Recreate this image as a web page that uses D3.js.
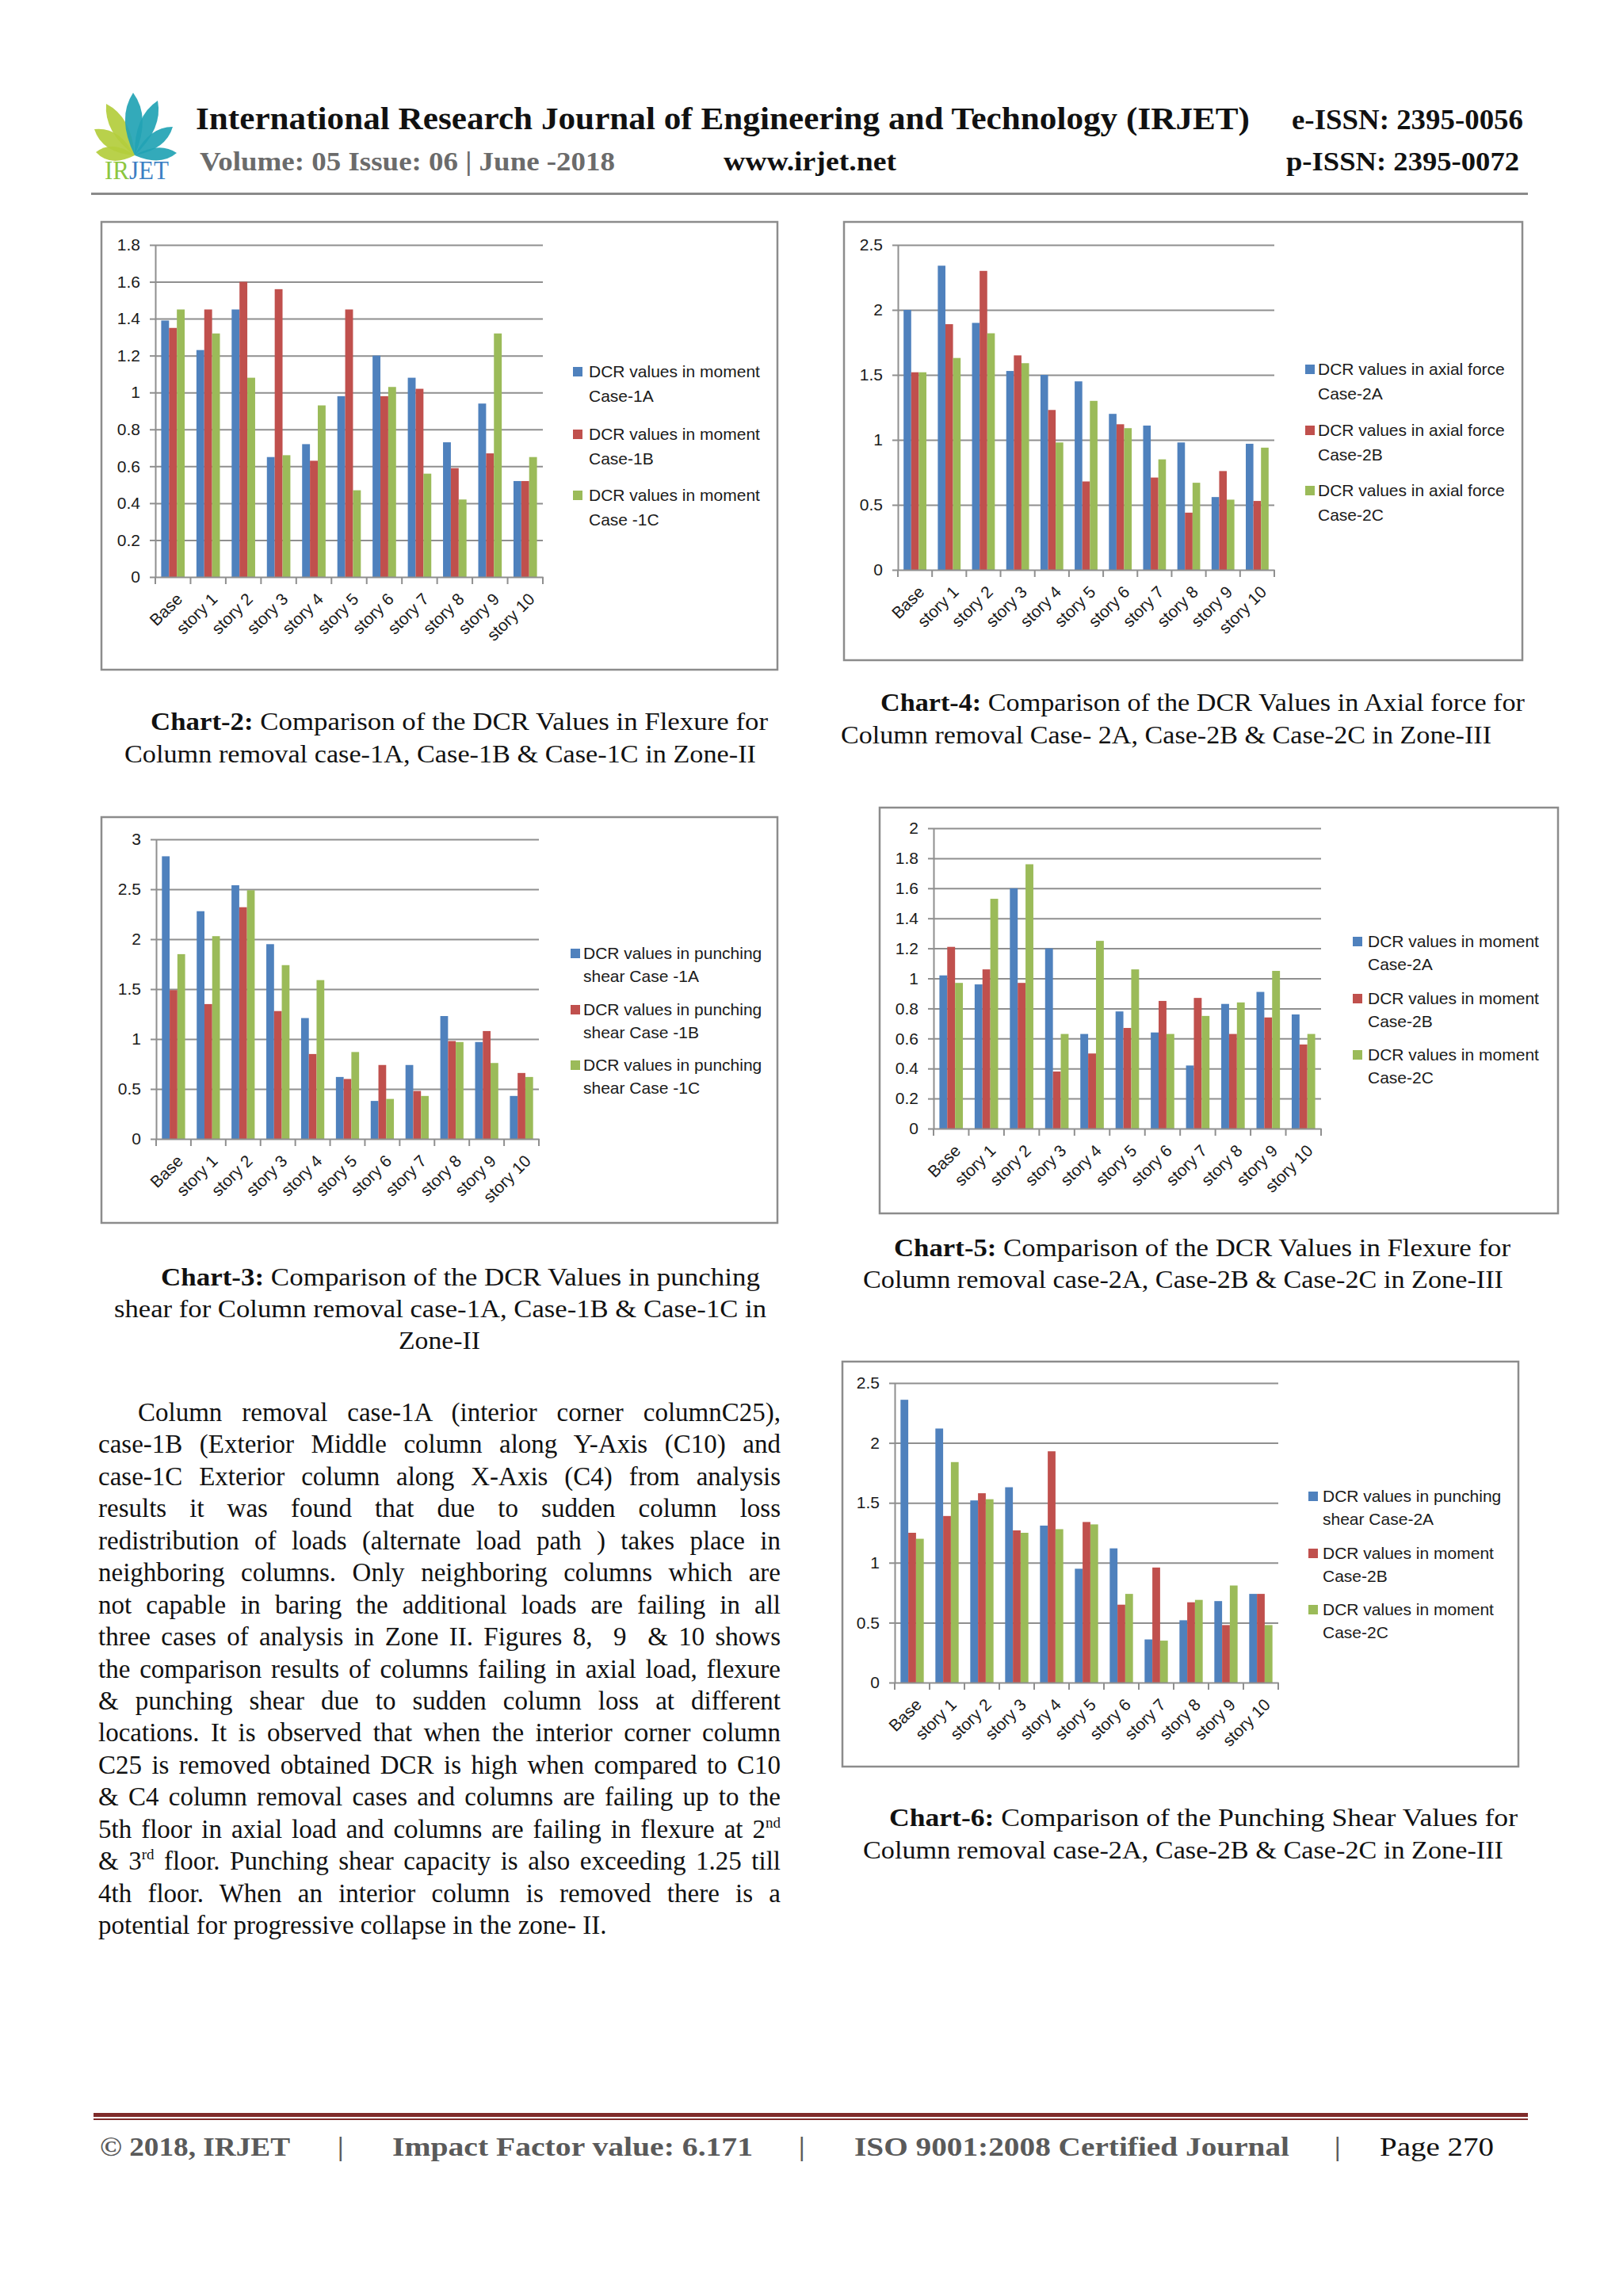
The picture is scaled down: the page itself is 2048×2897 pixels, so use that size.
<!DOCTYPE html>
<html>
<head>
<meta charset="utf-8">
<script src="https://cdn.jsdelivr.net/npm/d3@7"></script>
<style>
  html, body { margin: 0; padding: 0; background: #fff; }
  #page { position: relative; width: 2048px; height: 2897px; overflow: hidden; background: #fff; }
  svg { position: absolute; left: 0; top: 0; }
  .para { position: absolute; font-family: "Liberation Serif", "Times New Roman", serif; font-size: 33px;
          line-height: 40px; height: 40px; color: #111; white-space: nowrap;
          text-align: justify; text-align-last: justify; }
  .para.last { text-align-last: left; }
  .para sup { font-size: 19px; line-height: 0; vertical-align: 13px; }
</style>
</head>
<body>
<div id="page"></div>
<script>
// ---------------- DATA ----------------
const categories = ["Base", "story 1", "story 2", "story 3", "story 4", "story 5", "story 6", "story 7", "story 8", "story 9", "story 10"];

// Chart-2: DCR in flexure (moment), Zone-II
const chart2Case1A = [1.39, 1.23, 1.45, 0.65, 0.72, 0.98, 1.20, 1.08, 0.73, 0.94, 0.52];
const chart2Case1B = [1.35, 1.45, 1.60, 1.56, 0.63, 1.45, 0.98, 1.02, 0.59, 0.67, 0.52];
const chart2Case1C = [1.45, 1.32, 1.08, 0.66, 0.93, 0.47, 1.03, 0.56, 0.42, 1.32, 0.65];
const chart2Ticks = [0, 0.2, 0.4, 0.6, 0.8, 1, 1.2, 1.4, 1.6, 1.8];
const chart2Legend = [["DCR values in moment", "Case-1A"], ["DCR values in moment", "Case-1B"], ["DCR values in moment", "Case -1C"]];

// Chart-4: DCR in axial force, Zone-III
const chart4Case2A = [2.00, 2.34, 1.90, 1.53, 1.50, 1.45, 1.20, 1.11, 0.98, 0.56, 0.97];
const chart4Case2B = [1.52, 1.89, 2.30, 1.65, 1.23, 0.68, 1.12, 0.71, 0.44, 0.76, 0.53];
const chart4Case2C = [1.52, 1.63, 1.82, 1.59, 0.98, 1.30, 1.09, 0.85, 0.67, 0.54, 0.94];
const chart4Ticks = [0, 0.5, 1, 1.5, 2, 2.5];
const chart4Legend = [["DCR values in axial force", "Case-2A"], ["DCR values in axial force", "Case-2B"], ["DCR values in axial force", "Case-2C"]];

// Chart-3: DCR in punching shear, Zone-II
const chart3Case1A = [2.83, 2.28, 2.54, 1.95, 1.21, 0.62, 0.38, 0.74, 1.23, 0.97, 0.43];
const chart3Case1B = [1.49, 1.35, 2.32, 1.28, 0.85, 0.60, 0.74, 0.48, 0.98, 1.08, 0.66];
const chart3Case1C = [1.85, 2.03, 2.49, 1.74, 1.59, 0.87, 0.40, 0.43, 0.97, 0.76, 0.62];
const chart3Ticks = [0, 0.5, 1, 1.5, 2, 2.5, 3];
const chart3Legend = [["DCR values in punching", "shear Case -1A"], ["DCR values in punching", "shear Case -1B"], ["DCR values in punching", "shear Case -1C"]];

// Chart-5: DCR in flexure (moment), Zone-III
const chart5Case2A = [1.02, 0.96, 1.60, 1.20, 0.63, 0.78, 0.64, 0.42, 0.83, 0.91, 0.76];
const chart5Case2B = [1.21, 1.06, 0.97, 0.38, 0.50, 0.67, 0.85, 0.87, 0.63, 0.74, 0.56];
const chart5Case2C = [0.97, 1.53, 1.76, 0.63, 1.25, 1.06, 0.63, 0.75, 0.84, 1.05, 0.63];
const chart5Ticks = [0, 0.2, 0.4, 0.6, 0.8, 1, 1.2, 1.4, 1.6, 1.8, 2];
const chart5Legend = [["DCR values in moment", "Case-2A"], ["DCR values in moment", "Case-2B"], ["DCR values in moment", "Case-2C"]];

// Chart-6: Punching shear, Zone-III
const chart6Case2A = [2.36, 2.12, 1.52, 1.63, 1.31, 0.95, 1.12, 0.36, 0.52, 0.68, 0.74];
const chart6Case2B = [1.25, 1.39, 1.58, 1.27, 1.93, 1.34, 0.65, 0.96, 0.67, 0.48, 0.74];
const chart6Case2C = [1.20, 1.84, 1.53, 1.25, 1.28, 1.32, 0.74, 0.35, 0.69, 0.81, 0.48];
const chart6Ticks = [0, 0.5, 1, 1.5, 2, 2.5];
const chart6Legend = [["DCR values in punching", "shear Case-2A"], ["DCR values in moment", "Case-2B"], ["DCR values in moment", "Case-2C"]];

const seriesColors = ["#4F81BD", "#C0504D", "#9BBB59"];

// ---------------- PAGE ----------------
const W = 2048, H = 2897;
const page = d3.select("#page");
const svg = page.append("svg").attr("width", W).attr("height", H);
svg.append("rect").attr("width", W).attr("height", H).attr("fill", "#fff");

const serif = "'Liberation Serif', 'Times New Roman', serif";
const sans = "'Liberation Sans', Arial, sans-serif";

// ----- header logo -----
const logo = svg.append("g");
const base = [170, 196];
const leaves = [
  { tip: [121, 192], w: 9, c: "#B3CD3C" },
  { tip: [119, 163], w: 10, c: "#B3CD3C" },
  { tip: [134, 131], w: 10, c: "#B3CD3C" },
  { tip: [168, 117], w: 11, c: "#22A3B4" },
  { tip: [199, 127], w: 10, c: "#22A3B4" },
  { tip: [218, 160], w: 9, c: "#22A3B4" },
  { tip: [223, 193], w: 8, c: "#22A3B4" }
];
leaves.forEach(l => {
  const dx = l.tip[0] - base[0], dy = l.tip[1] - base[1];
  const len = Math.hypot(dx, dy), nx = -dy / len, ny = dx / len;
  const mx = base[0] + dx * 0.6, my = base[1] + dy * 0.6;
  const p = d3.path();
  p.moveTo(base[0], base[1]);
  p.quadraticCurveTo(mx + nx * l.w * 2, my + ny * l.w * 2, l.tip[0], l.tip[1]);
  p.quadraticCurveTo(mx - nx * l.w * 2, my - ny * l.w * 2, base[0], base[1]);
  logo.append("path").attr("d", p.toString()).attr("fill", l.c).attr("opacity", 0.92);
});
const logoText = logo.append("text").attr("x", 132).attr("y", 226)
  .attr("font-family", serif).attr("font-size", 33).attr("textLength", 81).attr("lengthAdjust", "spacingAndGlyphs");
logoText.append("tspan").attr("fill", "#8CC63F").text("IR");
logoText.append("tspan").attr("fill", "#3B7FC4").text("JET");

function txt(x, y, s, opts) {
  const t = svg.append("text").attr("x", x).attr("y", y)
    .attr("font-family", opts.family || serif)
    .attr("font-size", opts.size)
    .attr("font-weight", opts.weight || "normal")
    .attr("fill", opts.fill || "#000")
    .text(s);
  if (opts.len) t.attr("textLength", opts.len).attr("lengthAdjust", "spacingAndGlyphs");
  return t;
}
// header texts
txt(247, 163, "International Research Journal of Engineering and Technology (IRJET)", { size: 41, weight: "bold", fill: "#111", len: 1330 });
txt(1630, 163, "e-ISSN: 2395-0056", { size: 36, weight: "bold", fill: "#111", len: 292 });
txt(252, 215, "Volume: 05 Issue: 06 | June -2018", { size: 34, weight: "bold", fill: "#6b6b6b", len: 524 });
txt(913, 215, "www.irjet.net", { size: 34, weight: "bold", fill: "#111", len: 218 });
txt(1623, 215, "p-ISSN: 2395-0072", { size: 34, weight: "bold", fill: "#111", len: 294 });
svg.append("rect").attr("x", 115).attr("y", 243).attr("width", 1813).attr("height", 3).attr("fill", "#8a8a8a");

// ----- charts -----
function drawChart(cfg, series, ticks, legend) {
  const g = svg.append("g");
  // frame
  g.append("rect").attr("x", cfg.box[0]).attr("y", cfg.box[1]).attr("width", cfg.box[2]).attr("height", cfg.box[3])
    .attr("fill", "#fff").attr("stroke", "#8c8c8c").attr("stroke-width", 2.5);

  const yMax = d3.max(ticks);
  const y = d3.scaleLinear().domain([0, yMax]).range([cfg.py0, cfg.py1]);
  const x0 = d3.scaleBand().domain(categories).range([cfg.px0, cfg.px1]).paddingInner(0).paddingOuter(0);
  const bw = x0.bandwidth();
  const x1 = d3.scaleBand().domain(d3.range(series.length)).range([bw / 6, bw * 5 / 6]).padding(0);

  // gridlines
  const grid = d3.axisLeft(y).tickValues(ticks.filter(t => t > 0)).tickSize(-(cfg.px1 - cfg.px0)).tickFormat("");
  const gg = g.append("g").attr("transform", `translate(${cfg.px0},0)`).call(grid);
  gg.select(".domain").remove();
  gg.selectAll("line").attr("stroke", "#8f8f8f").attr("stroke-width", 2);

  // bars
  series.forEach((vals, si) => {
    g.append("g").selectAll("rect").data(vals).join("rect")
      .attr("x", (d, i) => x0(categories[i]) + x1(si))
      .attr("y", d => y(d))
      .attr("width", x1.bandwidth())
      .attr("height", d => y(0) - y(d))
      .attr("fill", seriesColors[si]);
  });

  // y axis
  const ya = d3.axisLeft(y).tickValues(ticks).tickSize(7).tickPadding(12).tickSizeOuter(0)
    .tickFormat(d => d3.format("~g")(d));
  const yg = g.append("g").attr("transform", `translate(${cfg.px0},0)`).call(ya);
  yg.select(".domain").attr("stroke", "#8f8f8f").attr("stroke-width", 2);
  yg.selectAll(".tick line").attr("stroke", "#8f8f8f").attr("stroke-width", 2);
  yg.selectAll(".tick text").attr("font-family", sans).attr("font-size", 21).attr("fill", "#1a1a1a");

  // x axis
  const xa = d3.axisBottom(x0).tickSize(0).tickPadding(0);
  const xg = g.append("g").attr("transform", `translate(0,${cfg.py0})`).call(xa);
  xg.select(".domain").attr("stroke", "#8f8f8f").attr("stroke-width", 2);
  xg.selectAll(".tick text")
    .attr("font-family", sans).attr("font-size", 21).attr("fill", "#1a1a1a")
    .attr("text-anchor", "end").attr("dy", "0.35em")
    .attr("transform", "translate(8,24) rotate(-45)")
    .attr("y", 0).attr("x", 0);
  // category boundary ticks
  const bounds = categories.map(c => x0(c)).concat([cfg.px1]);
  xg.append("g").selectAll("line").data(bounds).join("line")
    .attr("x1", d => d).attr("x2", d => d).attr("y1", 0).attr("y2", 9)
    .attr("stroke", "#8f8f8f").attr("stroke-width", 2);

  // legend
  legend.forEach((lines, i) => {
    const ry = cfg.legRows[i];
    g.append("rect").attr("x", cfg.legSq).attr("y", ry - 6).attr("width", 12).attr("height", 12).attr("fill", seriesColors[i]);
    lines.forEach((s, j) => {
      g.append("text").attr("x", cfg.legText).attr("y", ry + j * cfg.legDy).attr("dy", "0.35em")
        .attr("font-family", sans).attr("font-size", 21).attr("fill", "#1a1a1a").text(s);
    });
  });
}

drawChart({ box: [128, 280, 853, 565], px0: 196, px1: 685, py0: 728, py1: 309, legSq: 723, legText: 743, legRows: [469, 548, 625], legDy: 31 },
  [chart2Case1A, chart2Case1B, chart2Case1C], chart2Ticks, chart2Legend);
drawChart({ box: [1065, 280, 856, 553], px0: 1133, px1: 1608, py0: 719, py1: 309, legSq: 1647, legText: 1663, legRows: [466, 543, 619], legDy: 31 },
  [chart4Case2A, chart4Case2B, chart4Case2C], chart4Ticks, chart4Legend);
drawChart({ box: [128, 1031, 853, 512], px0: 197, px1: 680, py0: 1437, py1: 1059, legSq: 720, legText: 736, legRows: [1203, 1274, 1344], legDy: 29 },
  [chart3Case1A, chart3Case1B, chart3Case1C], chart3Ticks, chart3Legend);
drawChart({ box: [1110, 1019, 856, 512], px0: 1178, px1: 1667, py0: 1424, py1: 1045, legSq: 1707, legText: 1726, legRows: [1188, 1260, 1331], legDy: 29 },
  [chart5Case2A, chart5Case2B, chart5Case2C], chart5Ticks, chart5Legend);
drawChart({ box: [1063, 1718, 853, 511], px0: 1129, px1: 1613, py0: 2123, py1: 1745, legSq: 1651, legText: 1669, legRows: [1888, 1960, 2031], legDy: 29 },
  [chart6Case2A, chart6Case2B, chart6Case2C], chart6Ticks, chart6Legend);

// ----- captions -----
function caption(x0, x1, yb, boldPart, rest) {
  const t = svg.append("text").attr("x", x0).attr("y", yb).attr("font-family", serif).attr("font-size", 31).attr("fill", "#111")
    .attr("textLength", x1 - x0).attr("lengthAdjust", "spacingAndGlyphs");
  if (boldPart) t.append("tspan").attr("font-weight", "bold").text(boldPart);
  t.append("tspan").text(rest);
}
caption(190, 969, 921, "Chart-2:", " Comparison of the DCR Values in Flexure for");
caption(157, 954, 962, null, "Column removal case-1A, Case-1B & Case-1C in Zone-II");
caption(1111, 1924, 897, "Chart-4:", " Comparison of the DCR Values in Axial force for");
caption(1061, 1882, 938, null, "Column removal Case- 2A, Case-2B & Case-2C in Zone-III");
caption(203, 959, 1622, "Chart-3:", " Comparison of the DCR Values in punching");
caption(144, 967, 1662, null, "shear for Column removal case-1A, Case-1B & Case-1C in");
caption(503, 606, 1702, null, "Zone-II");
caption(1128, 1906, 1585, "Chart-5:", " Comparison of the DCR Values in Flexure for");
caption(1089, 1897, 1625, null, "Column removal case-2A, Case-2B & Case-2C in Zone-III");
caption(1122, 1915, 2304, "Chart-6:", "  Comparison of the Punching Shear Values for");
caption(1089, 1897, 2345, null, "Column removal case-2A, Case-2B & Case-2C in Zone-III");

// ----- body paragraph -----
const paraLines = [
  "Column removal case-1A (interior corner columnC25),",
  "case-1B (Exterior Middle column along Y-Axis (C10) and",
  "case-1C Exterior column along X-Axis (C4) from analysis",
  "results it was found that due to sudden column loss",
  "redistribution of loads (alternate load path ) takes place in",
  "neighboring columns. Only neighboring columns which are",
  "not capable in baring the additional loads are failing in all",
  "three cases of analysis in Zone II. Figures 8,&nbsp; 9&nbsp; &amp; 10 shows",
  "the comparison results of columns failing in axial load, flexure",
  "&amp; punching shear due to sudden column loss at different",
  "locations. It is observed that when the interior corner column",
  "C25 is removed obtained DCR is high when compared to C10",
  "&amp; C4 column removal cases and columns are failing up to the",
  "5th floor in axial load and columns are failing in flexure at 2<sup>nd</sup>",
  "&amp; 3<sup>rd</sup> floor. Punching shear capacity is also exceeding 1.25 till",
  "4th floor. When an interior column is removed there is a",
  "potential for progressive collapse in the zone- II."
];
paraLines.forEach((s, i) => {
  const first = i === 0, last = i === paraLines.length - 1;
  page.append("div").attr("class", "para" + (last ? " last" : ""))
    .style("left", (first ? 174 : 124) + "px")
    .style("width", (first ? 811 : 861) + "px")
    .style("top", (1762 + i * 40.44) + "px")
    .html(s);
});

// ----- footer -----
svg.append("rect").attr("x", 118).attr("y", 2666).attr("width", 1810).attr("height", 5).attr("fill", "#7f2b2a");
svg.append("rect").attr("x", 118).attr("y", 2673).attr("width", 1810).attr("height", 2).attr("fill", "#7f2b2a");
txt(126, 2720, "© 2018, IRJET", { size: 34, weight: "bold", fill: "#5a5a5a", len: 240 });
txt(426, 2720, "|", { size: 34, weight: "bold", fill: "#5a5a5a" });
txt(495, 2720, "Impact Factor value: 6.171", { size: 34, weight: "bold", fill: "#5a5a5a", len: 455 });
txt(1008, 2720, "|", { size: 34, weight: "bold", fill: "#5a5a5a" });
txt(1078, 2720, "ISO 9001:2008 Certified Journal", { size: 34, weight: "bold", fill: "#5a5a5a", len: 549 });
txt(1684, 2720, "|", { size: 34, weight: "bold", fill: "#5a5a5a" });
txt(1741, 2720, "Page 270", { size: 34, weight: "normal", fill: "#111", len: 144 });
</script>
</body>
</html>
